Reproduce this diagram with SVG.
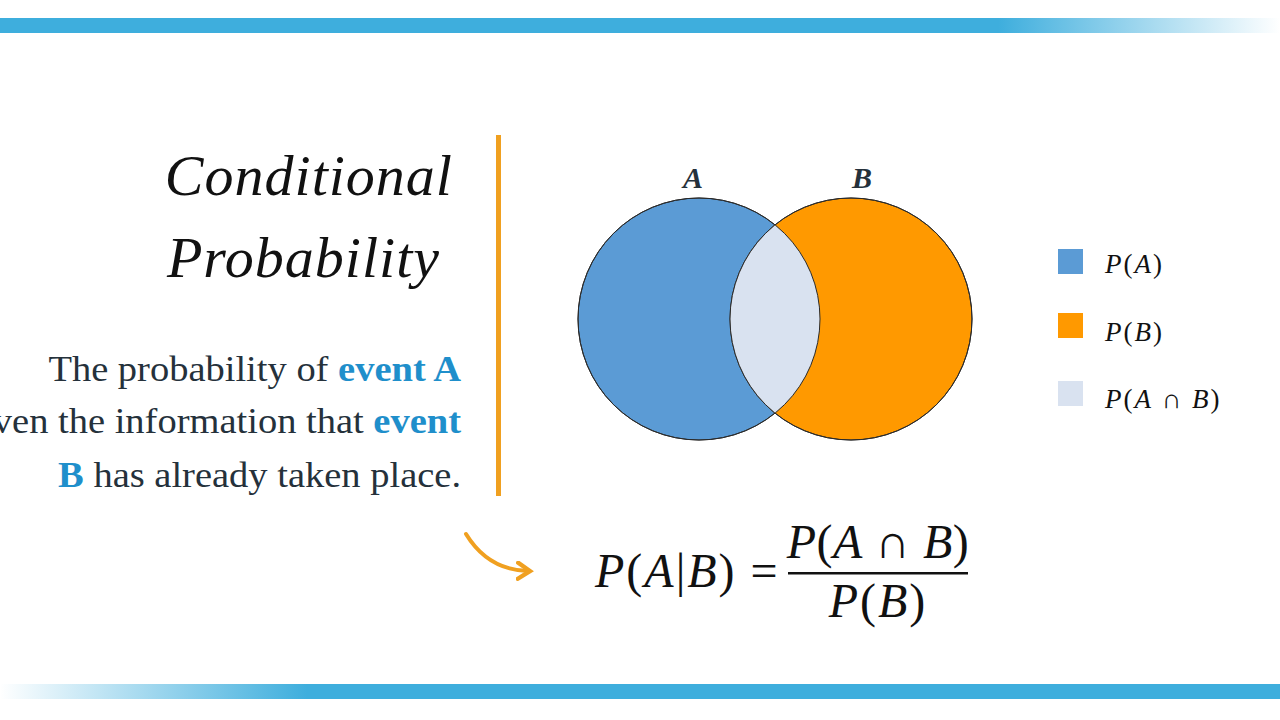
<svg xmlns="http://www.w3.org/2000/svg" width="1280" height="720" viewBox="0 0 1280 720">
<defs>
<linearGradient id="gTop" x1="0" y1="0" x2="1280" y2="0" gradientUnits="userSpaceOnUse">
<stop offset="0" stop-color="#3eaedd"/><stop offset="0.78" stop-color="#3eaedd"/><stop offset="1" stop-color="#3eaedd" stop-opacity="0"/>
</linearGradient>
<linearGradient id="gBot" x1="0" y1="0" x2="1280" y2="0" gradientUnits="userSpaceOnUse">
<stop offset="0" stop-color="#3eaedd" stop-opacity="0"/><stop offset="0.24" stop-color="#3eaedd"/><stop offset="1" stop-color="#3eaedd"/>
</linearGradient>
<clipPath id="clipA"><circle cx="699" cy="319" r="121"/></clipPath>
<marker id="arr" viewBox="0 0 10 10" refX="6" refY="5" markerWidth="5" markerHeight="5" orient="auto">
<path d="M1,1 L7,5 L1,9" fill="none" stroke="#f0a020" stroke-width="2.2" stroke-linecap="round"/>
</marker>
<style>
.title{font-family:"Liberation Serif",serif;font-style:italic;font-size:58px;fill:#111;text-anchor:end;letter-spacing:1px}
.body{font-family:"Liberation Serif",serif;font-size:35px;fill:#25313b;text-anchor:end}
.hl{fill:#1f8fcb;font-weight:bold}
.math{font-family:"Liberation Serif",serif;fill:#111}
.it{font-style:italic}
.lab{font-family:"Liberation Serif",serif;font-style:italic;font-weight:bold;font-size:30px;fill:#25313b;text-anchor:middle}
.circ{stroke:#2a2a2a;stroke-width:1}
.leg{font-size:27px;letter-spacing:2px}
</style>
</defs>
<rect width="1280" height="720" fill="#ffffff"/>
<rect x="0" y="18" width="1280" height="15" fill="url(#gTop)"/>
<rect x="0" y="684" width="1280" height="15" fill="url(#gBot)"/>

<g id="title">
<text class="title" x="453" y="195">Conditional</text>
<text class="title" x="440" y="277">Probability</text>
</g>
<g id="divider"><rect x="496" y="135" width="5" height="361" fill="#f0a020"/></g>
<g id="description" transform="translate(461,0) scale(1.1,1)">
<text class="body" x="0" y="381">The probability of <tspan class="hl">event A</tspan></text>
<text class="body" x="0" y="433">given the information that <tspan class="hl">event</tspan></text>
<text class="body" x="0" y="487"><tspan class="hl">B</tspan> has already taken place.</text>
</g>

<g id="venn">
<circle class="circ" cx="699" cy="319" r="121" fill="#5b9bd5"/>
<circle class="circ" cx="851" cy="319" r="121" fill="#ff9900"/>
<circle cx="851" cy="319" r="121" fill="#d9e2f0" clip-path="url(#clipA)"/>
<circle cx="699" cy="319" r="121" fill="none" stroke="#2a2a2a" stroke-width="1"/>
<circle cx="851" cy="319" r="121" fill="none" stroke="#2a2a2a" stroke-width="1"/>
<text class="lab" x="693" y="188">A</text>
<text class="lab" x="862" y="188">B</text>
</g>

<g id="legend">
<rect x="1058" y="249" width="25" height="25" fill="#5b9bd5"/>
<rect x="1058" y="313" width="25" height="25" fill="#ff9900"/>
<rect x="1058" y="381" width="25" height="25" fill="#d9e2f0"/>
<text class="math leg" x="1105" y="273"><tspan class="it">P</tspan>(<tspan class="it">A</tspan>)</text>
<text class="math leg" x="1105" y="341"><tspan class="it">P</tspan>(<tspan class="it">B</tspan>)</text>
<text class="math leg" x="1105" y="408"><tspan class="it">P</tspan>(<tspan class="it">A</tspan> ∩ <tspan class="it">B</tspan>)</text>
</g>

<g id="connectors">
<path d="M466,534 Q488,570 528,571" fill="none" stroke="#f0a020" stroke-width="4" stroke-linecap="round" marker-end="url(#arr)"/>
</g>

<g id="formula">
<text class="math" x="595" y="587" font-size="48" letter-spacing="2"><tspan class="it">P</tspan>(<tspan class="it">A</tspan>|<tspan class="it">B</tspan>) =</text>
<text class="math" x="878" y="558" font-size="48" text-anchor="middle" letter-spacing="0.5"><tspan class="it">P</tspan>(<tspan class="it">A</tspan> ∩ <tspan class="it">B</tspan>)</text>
<rect x="788" y="572" width="180" height="2.5" fill="#111"/>
<text class="math" x="878" y="617" font-size="48" text-anchor="middle" letter-spacing="2"><tspan class="it">P</tspan>(<tspan class="it">B</tspan>)</text>
</g>
</svg>
